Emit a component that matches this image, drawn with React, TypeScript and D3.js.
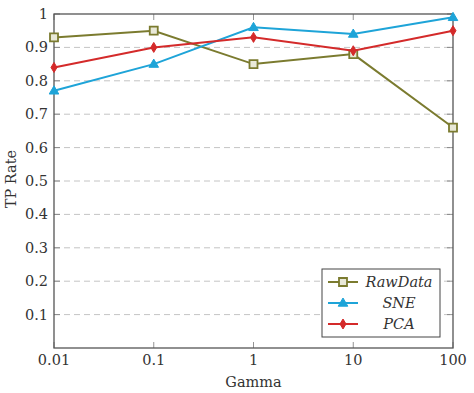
import * as d3 from 'd3';
import { useEffect, useRef } from 'react';

const gammas = [0.01, 0.1, 1, 10, 100];
const xTickLabels = ['0.01', '0.1', '1', '10', '100'];
const yTicks = [0.1, 0.2, 0.3, 0.4, 0.5, 0.6, 0.7, 0.8, 0.9, 1];
const rawData = [0.93, 0.95, 0.85, 0.88, 0.66];
const sne = [0.77, 0.85, 0.96, 0.94, 0.99];
const pca = [0.84, 0.9, 0.93, 0.89, 0.95];

const seriesNames = ['RawData', 'SNE', 'PCA'];
const seriesColors = ['#7b7b2f', '#1ea4d8', '#d42a2a'];
const seriesMarkers = ['square', 'triangle', 'diamond'];

const FONT = "'DejaVu Serif', 'Liberation Serif', serif";
const FS = 14.5;

export default function App() {
  const ref = useRef<SVGSVGElement | null>(null);

  useEffect(() => {
    if (!ref.current) return;
    const svg = d3.select(ref.current);
    svg.selectAll('*').remove();

    const width = 474;
    const height = 393;
    const margin = { top: 14, right: 21, bottom: 45, left: 54 };

    const x = d3.scaleLog().domain([0.01, 100]).range([margin.left, width - margin.right]);
    const y = d3.scaleLinear().domain([0, 1]).range([height - margin.bottom, margin.top]);

    const [x0, x1] = x.range();
    const [y0, y1] = y.range();

    // Grid
    svg
      .append('g')
      .selectAll('line')
      .data(yTicks.slice(0, -1))
      .enter()
      .append('line')
      .attr('x1', x0)
      .attr('x2', x1)
      .attr('y1', (d) => y(d))
      .attr('y2', (d) => y(d))
      .attr('stroke', '#c4c4c4')
      .attr('stroke-width', 1)
      .attr('stroke-dasharray', '6 4');

    // Inner ticks
    const ticks = svg.append('g').attr('stroke', '#777').attr('stroke-width', 0.8);
    gammas.forEach((g) => {
      ticks.append('line').attr('x1', x(g)).attr('x2', x(g)).attr('y1', y0).attr('y2', y0 - 6);
      ticks.append('line').attr('x1', x(g)).attr('x2', x(g)).attr('y1', y1).attr('y2', y1 + 6);
    });
    yTicks.forEach((t) => {
      ticks.append('line').attr('x1', x0).attr('x2', x0 + 6).attr('y1', y(t)).attr('y2', y(t));
      ticks.append('line').attr('x1', x1).attr('x2', x1 - 6).attr('y1', y(t)).attr('y2', y(t));
    });

    // Frame
    svg
      .append('rect')
      .attr('x', x0)
      .attr('y', y1)
      .attr('width', x1 - x0)
      .attr('height', y0 - y1)
      .attr('fill', 'none')
      .attr('stroke', '#555')
      .attr('stroke-width', 1.3);

    // Tick labels
    svg
      .append('g')
      .selectAll('text')
      .data(gammas)
      .enter()
      .append('text')
      .attr('x', (d) => x(d))
      .attr('y', y0 + 17)
      .attr('text-anchor', 'middle')
      .attr('font-family', FONT)
      .attr('font-size', FS)
      .attr('fill', '#333')
      .text((_, i) => xTickLabels[i]);

    svg
      .append('g')
      .selectAll('text')
      .data(yTicks)
      .enter()
      .append('text')
      .attr('x', x0 - 6)
      .attr('y', (d) => y(d))
      .attr('dy', '0.35em')
      .attr('text-anchor', 'end')
      .attr('font-family', FONT)
      .attr('font-size', FS)
      .attr('fill', '#333')
      .text((d) => (d === 1 ? '1' : d.toFixed(1)));

    // Axis titles
    svg
      .append('text')
      .attr('x', (x0 + x1) / 2)
      .attr('y', height - 6)
      .attr('text-anchor', 'middle')
      .attr('font-family', FONT)
      .attr('font-size', FS)
      .attr('fill', '#333')
      .text('Gamma');

    svg
      .append('text')
      .attr('transform', `translate(16, ${(y0 + y1) / 2 - 2}) rotate(-90)`)
      .attr('text-anchor', 'middle')
      .attr('font-family', FONT)
      .attr('font-size', FS)
      .attr('fill', '#333')
      .text('TP Rate');

    const markerPath = (kind: string) => {
      if (kind === 'square') return 'M-4,-4H4V4H-4Z';
      if (kind === 'triangle') return 'M0,-5L4.8,3.2H-4.8Z';
      return 'M0,-5L3,0L0,5L-3,0Z';
    };

    const drawMarker = (g: d3.Selection<SVGGElement, unknown, null, undefined>, kind: string, color: string, cx: number, cy: number) => {
      g.append('path')
        .attr('d', markerPath(kind))
        .attr('transform', `translate(${cx},${cy})`)
        .attr('fill', kind === 'square' ? '#e9e9d8' : color)
        .attr('stroke', color)
        .attr('stroke-width', kind === 'square' ? 1.8 : 1);
    };

    const allSeries = [rawData, sne, pca];
    const line = d3
      .line<number>()
      .x((_, i) => x(gammas[i]))
      .y((d) => y(d));

    allSeries.forEach((vals, si) => {
      const g = svg.append('g');
      g.append('path')
        .datum(vals)
        .attr('d', line)
        .attr('fill', 'none')
        .attr('stroke', seriesColors[si])
        .attr('stroke-width', 2);
      vals.forEach((v, i) => drawMarker(g, seriesMarkers[si], seriesColors[si], x(gammas[i]), y(v)));
    });

    // Legend
    const lg = svg.append('g').attr('transform', `translate(322, 269)`);
    lg.append('rect')
      .attr('width', 118)
      .attr('height', 68)
      .attr('fill', 'white')
      .attr('stroke', '#444')
      .attr('stroke-width', 1);
    seriesNames.forEach((name, i) => {
      const cy = 13 + i * 21;
      const g = lg.append('g');
      g.append('line')
        .attr('x1', 6)
        .attr('x2', 36)
        .attr('y1', cy)
        .attr('y2', cy)
        .attr('stroke', seriesColors[i])
        .attr('stroke-width', 2);
      drawMarker(g, seriesMarkers[i], seriesColors[i], 21, cy);
      g.append('text')
        .attr('x', 77)
        .attr('y', cy)
        .attr('dy', '0.35em')
        .attr('text-anchor', 'middle')
        .attr('font-family', FONT)
        .attr('font-style', 'italic')
        .attr('font-size', FS)
        .attr('fill', '#333')
        .text(name);
    });
  }, []);

  return <svg ref={ref} width={474} height={393} style={{ display: 'block', position: 'absolute', left: 0, top: 0, background: 'white' }} />;
}
